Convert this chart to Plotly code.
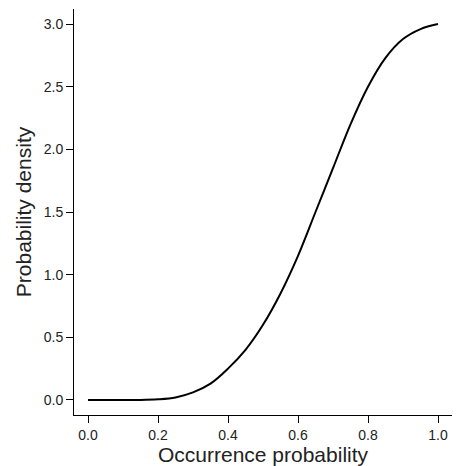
import plotly.graph_objects as go

x_vals = [0.0, 0.05, 0.1, 0.15, 0.2, 0.25, 0.3, 0.35, 0.4, 0.45, 0.5, 0.55, 0.6, 0.65, 0.7, 0.75, 0.8, 0.85, 0.9, 0.95, 1.0]
density = [0.0, 0.0, 0.0, 0.0, 0.005, 0.02, 0.06, 0.13, 0.25, 0.4, 0.6, 0.85, 1.15, 1.5, 1.85, 2.2, 2.5, 2.73, 2.88, 2.96, 3.0]
x_ticks = [0.0, 0.2, 0.4, 0.6, 0.8, 1.0]
y_ticks = [0.0, 0.5, 1.0, 1.5, 2.0, 2.5, 3.0]

fig = go.Figure(go.Scatter(x=x_vals, y=density, mode="lines", line=dict(color="black", width=2, shape="spline")))
fig.update_layout(
    width=474, height=466, plot_bgcolor="white", paper_bgcolor="white", showlegend=False,
    margin=dict(l=66, r=30, t=1, b=59),
    font=dict(family="Liberation Sans, Arial", color="#222"),
    xaxis=dict(range=[-0.04, 1.04], tickvals=x_ticks, ticktext=[f"{v:.1f}" for v in x_ticks],
               showgrid=False, zeroline=False, showline=True, linecolor="black", ticks="outside",
               ticklen=7, tickcolor="black", tickfont=dict(size=14), automargin=False,
               title=dict(text="Occurrence probability", font=dict(size=21), standoff=4)),
    yaxis=dict(range=[-0.12, 3.12], tickvals=y_ticks, ticktext=[f"{v:.1f}" for v in y_ticks],
               showgrid=False, zeroline=False, showline=True, linecolor="black", ticks="outside",
               ticklen=7, tickcolor="black", tickfont=dict(size=14), automargin=False,
               title=dict(text="Probability density", font=dict(size=21), standoff=6)),
)
fig.write_html("out.html")
